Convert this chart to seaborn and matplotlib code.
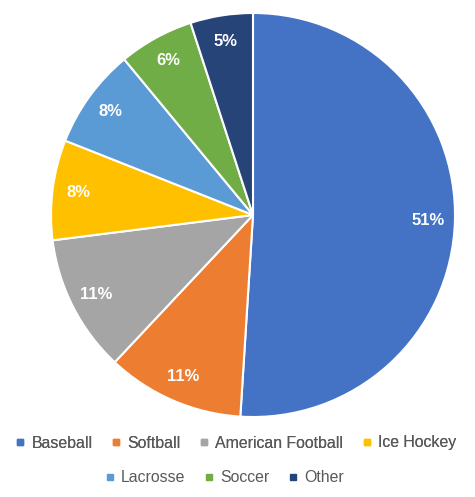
import matplotlib
matplotlib.use("Agg")
import matplotlib.pyplot as plt
import seaborn as sns
from matplotlib.lines import Line2D

sns.set_style("white")
plt.rcParams['font.family'] = ['Liberation Sans', 'DejaVu Sans']

categories = ["Baseball", "Softball", "American Football", "Ice Hockey", "Lacrosse", "Soccer", "Other"]
values = [51, 11, 11, 8, 8, 6, 5]
colors = ["#4472C4", "#ED7D31", "#A5A5A5", "#FFC000", "#5B9BD5", "#70AD47", "#264478"]

fig = plt.figure(figsize=(4.75, 4.97), dpi=100)
ax = fig.add_axes([51/475, (497-417)/497, 404/475, 404/497])
wedges, texts, autotexts = ax.pie(
    values, colors=colors, startangle=90, counterclock=False,
    autopct=lambda p: f"{p:.0f}%", pctdistance=0.87,
    wedgeprops=dict(edgecolor="white", linewidth=1.5),
    textprops=dict(color="white", fontsize=12, fontweight="bold"))
ax.set_xlim(-1, 1)
ax.set_ylim(-1, 1)
ax.set_aspect("equal")

def handles(idx):
    return [Line2D([0], [0], marker="s", linestyle="", markersize=5,
                   markerfacecolor=colors[i], markeredgecolor=colors[i]) for i in idx]

leg1 = fig.legend(handles(range(4)), categories[:4], loc="center",
                  bbox_to_anchor=(0.497, 1 - 443/497), ncol=4, frameon=False,
                  fontsize=11.4, handlelength=0.6, handletextpad=0.4, columnspacing=1.2,
                  labelcolor="#595959")
leg2 = fig.legend(handles(range(4, 7)), categories[4:], loc="center",
                  bbox_to_anchor=(0.473, 1 - 478/497), ncol=3, frameon=False,
                  fontsize=11.4, handlelength=0.6, handletextpad=0.4, columnspacing=1.2,
                  labelcolor="#595959")
fig.add_artist(leg1)

fig.savefig("out.png", dpi=100, facecolor="white")
